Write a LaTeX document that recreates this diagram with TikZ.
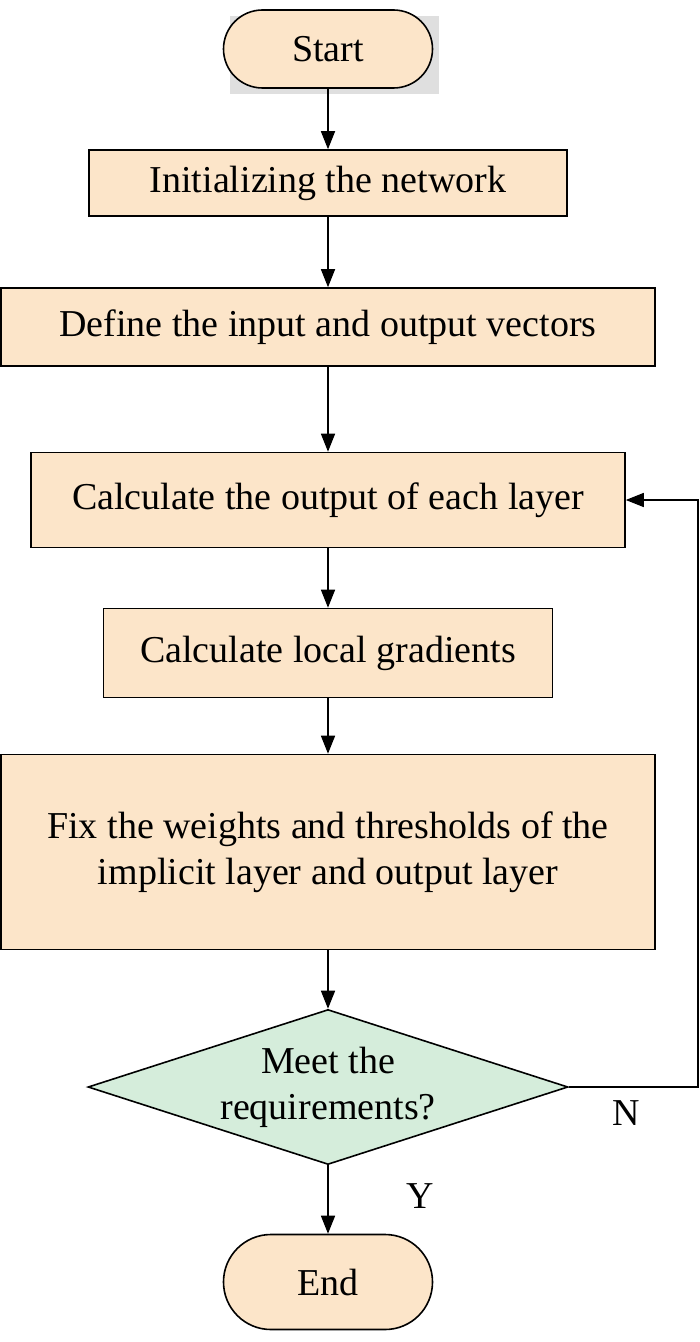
\documentclass[tikz,border=0pt]{standalone}
\usepackage{fontspec}
\setmainfont{Liberation Serif}
\usetikzlibrary{shapes.geometric,arrows.meta}
\definecolor{boxfill}{RGB}{252,229,201}
\definecolor{dfill}{RGB}{213,237,219}
\begin{document}
\begin{tikzpicture}[x=0.5pt,y=-0.5pt,
  every node/.style={font=\fontsize{19}{23}\selectfont, text=black},
  proc/.style={draw, line width=0.8pt, fill=boxfill, inner sep=0pt, align=center},
  term/.style={draw, line width=0.8pt, fill=boxfill, rounded corners=19.5pt, inner sep=0pt},
  arr/.style={line width=0.8pt, -{Triangle[length=9pt,width=7pt]}}]
\useasboundingbox (0,0) rectangle (700,1342);
\fill[gray!25] (230,16) rectangle ++(209,78);
\node[term, minimum width=104.5pt, minimum height=39pt] (start) at (328,49) {Start};
\node[proc, minimum width=239pt, minimum height=33pt] (b1) at (328,183) {Initializing the network};
\node[proc, minimum width=327pt, minimum height=39pt] (b2) at (328,327) {Define the input and output vectors};
\node[proc, minimum width=297pt, minimum height=47.5pt] (b3) at (328,500) {Calculate the output of each layer};
\node[proc, minimum width=224.5pt, minimum height=44.5pt] (b4) at (328,653) {Calculate local gradients};
\node[proc, minimum width=327pt, minimum height=97.5pt] (b5) at (328,852) {Fix the weights and thresholds of the\\implicit layer and output layer};
\node[diamond, draw, line width=0.8pt, fill=dfill, aspect=3.1, minimum width=240pt, minimum height=77.5pt, inner sep=0pt, align=center] (d) at (328,1087) {Meet the\\requirements?};
\node[term, minimum width=104.5pt, minimum height=47.5pt, rounded corners=23.7pt] (end) at (328,1282) {End};
\draw[arr] (start) -- (b1);
\draw[arr] (b1) -- (b2);
\draw[arr] (b2) -- (b3);
\draw[arr] (b3) -- (b4);
\draw[arr] (b4) -- (b5);
\draw[arr] (b5) -- (d);
\draw[arr] (d) -- (end);
\coordinate (c1) at (698,1087);
\coordinate (c2) at (698,500);
\draw[arr] (d.east) -- (c1) -- (c2) -- (b3.east);
\node (n) at (626,1113) {N};
\node (y) at (420,1196) {Y};
\end{tikzpicture}
\end{document}
